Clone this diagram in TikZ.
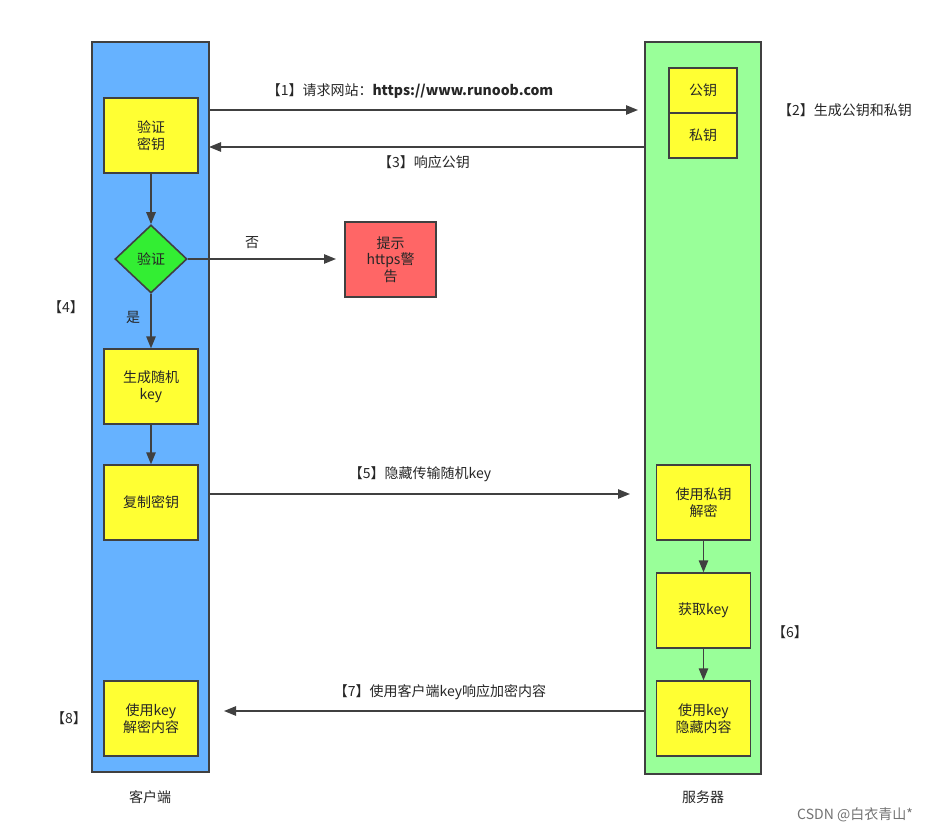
\documentclass[tikz,border=0pt]{standalone}
\usepackage{fontspec}
\setmainfont{Noto Sans CJK SC}
\usetikzlibrary{shapes.geometric,arrows.meta}
\definecolor{cblue}{HTML}{66B2FF}
\definecolor{sgreen}{HTML}{99FF99}
\definecolor{ybox}{HTML}{FFFF33}
\definecolor{rbox}{HTML}{FF6666}
\definecolor{dgreen}{HTML}{33EE33}
\begin{document}
\begin{tikzpicture}[x=0.75pt,y=-0.75pt,
  every node/.style={font=\fontsize{10.5}{12.5}\selectfont, text=black!85},
  bar/.style={draw=black!75, line width=1.2pt},
  box/.style={draw=black!75, line width=1.2pt, fill=ybox, minimum width=70.5pt, minimum height=56pt, align=center, inner sep=0pt},
  arr/.style={draw=black!75, line width=1.2pt, -{Triangle[length=9pt,width=7pt]}},
  lab/.style={inner sep=0pt}]
\useasboundingbox (0,0) rectangle (946,834);
\fill[white] (0,0) rectangle (946,834);
\draw[bar, fill=cblue] (92,42) rectangle (209,772);
\draw[bar, fill=sgreen] (645,42) rectangle (761,774);
\node[box] (vk) at (151,135.5) {验证\\密钥};
\node[diamond, draw=black!75, line width=1.2pt, fill=dgreen, minimum width=54pt, minimum height=51pt, inner sep=0pt] (vd) at (151,259) {验证};
\node[box, fill=rbox, minimum width=68pt] (tip) at (390.5,259.5) {提示\\https警\\告};
\node[box] (gen) at (151,386.5) {生成随机\\key};
\node[box] (copy) at (151,502.5) {复制密钥};
\node[box] (dec) at (151,718.5) {使用key\\解密内容};
\node[box, minimum width=51pt, minimum height=34pt] (pub) at (703,90.5) {公钥};
\node[box, minimum width=51pt, minimum height=34pt] (pri) at (703,135.5) {私钥};
\node[box] (sdec) at (703.5,502.5) {使用私钥\\解密};
\node[box] (get) at (703.5,610.5) {获取key};
\node[box] (hide) at (703.5,718.5) {使用key\\隐藏内容};
\coordinate (a1s) at (209,110); \coordinate (a1e) at (638,110);
\coordinate (a3s) at (645,147); \coordinate (a3e) at (209,147);
\coordinate (a5s) at (209,494); \coordinate (a5e) at (630,494);
\coordinate (a7s) at (645,711); \coordinate (a7e) at (224,711);
\coordinate (noe) at (336,259);
\draw[arr] (a1s) -- (a1e);
\draw[arr] (a3s) -- (a3e);
\draw[arr] (a5s) -- (a5e);
\draw[arr] (a7s) -- (a7e);
\draw[arr] (vk) -- (vd);
\draw[arr] (vd) -- (noe);
\draw[arr] (vd) -- (gen);
\draw[arr] (gen) -- (copy);
\draw[arr] (sdec) -- (get);
\draw[arr] (get) -- (hide);
\node[lab] (l1) at (410,91) {【1】请求网站：\textbf{https://www.runoob.com}};
\node[lab] (l3) at (424,162) {【3】响应公钥};
\node[lab] (l5) at (420,474) {【5】隐藏传输随机key};
\node[lab] (l7) at (440,692) {【7】使用客户端key响应加密内容};
\node[lab] (l2) at (845,110) {【2】生成公钥和私钥};
\node[lab] (l4) at (66,307) {【4】};
\node[lab] (l6) at (790,632) {【6】};
\node[lab] (l8) at (69,718) {【8】};
\node[lab] (no) at (252,243) {否};
\node[lab] (yes) at (133,317) {是};
\node[lab] (cl) at (150,797) {客户端};
\node[lab] (sv) at (703,797) {服务器};
\node[lab, text=black!55] (wm) at (855,815) {CSDN @白衣青山*};
\end{tikzpicture}
\end{document}
